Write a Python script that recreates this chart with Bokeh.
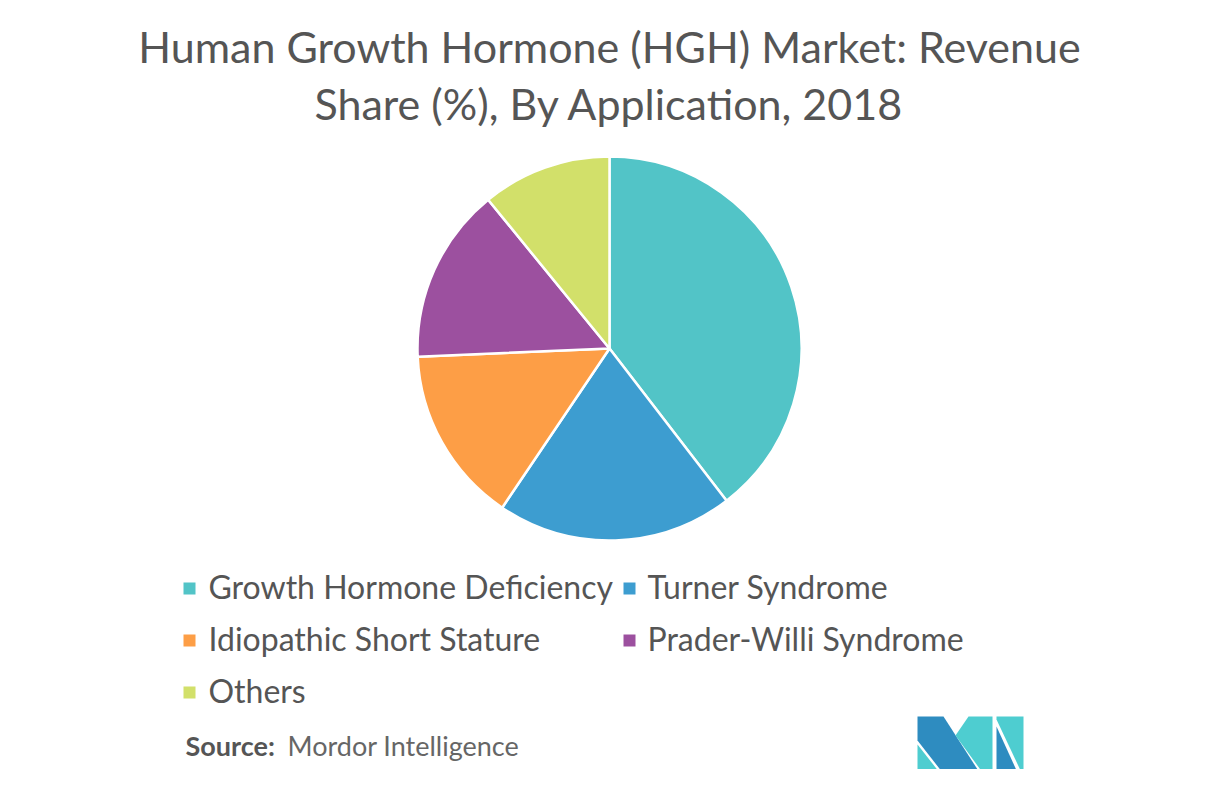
import numpy as np
from bokeh.plotting import figure
from bokeh.models import Range1d, ColumnDataSource
from bokeh.core.properties import value
from bokeh.embed import file_html
from bokeh.resources import INLINE

# ---- data ----
categories = ["Growth Hormone Deficiency", "Turner Syndrome", "Idiopathic Short Stature",
              "Prader-Willi Syndrome", "Others"]
shares = [39.6, 19.9, 14.9, 14.8, 10.9]
colors = ["#52C4C7", "#3D9DD0", "#FD9E46", "#9C509F", "#D2E06A"]
title_lines = ["Human Growth Hormone (HGH) Market: Revenue", "Share (%), By Application, 2018"]

W, H = 1202, 769
PAGE_H = 785


def Y(img_y):
    return PAGE_H - img_y


p = figure(width=W, height=H, output_backend="svg", toolbar_location=None,
           x_range=Range1d(0, W), y_range=Range1d(PAGE_H - H, PAGE_H),
           min_border=0, min_border_left=0, min_border_right=0,
           min_border_top=0, min_border_bottom=0)
p.axis.visible = False
p.grid.visible = False
p.outline_line_color = None
p.background_fill_color = "white"
p.border_fill_color = "white"

# ---- pie ----
cx, cy, r = 609, 348, 192
frac = np.array(shares) / sum(shares)
cum = np.concatenate([[0], np.cumsum(frac)])
start = np.pi / 2 - 2 * np.pi * cum[:-1]
end = np.pi / 2 - 2 * np.pi * cum[1:]
src = ColumnDataSource(dict(start=start, end=end, color=colors))
p.wedge(x=cx, y=Y(cy), radius=r, start_angle="start", end_angle="end",
        direction="clock", fill_color="color", line_color="white", line_width=2.5,
        source=src)

# ---- title ----
TEXT_COLOR = "#555555"
p.text(x=[609, 609], y=[Y(46), Y(103)], text=title_lines, text_align="center",
       text_baseline="alphabetic", text_font=value("Lato"), text_font_size="43px",
       text_color=TEXT_COLOR)

# ---- legend ----
sq_x = [189, 629, 189, 629, 189]
tx_x = [208, 647, 208, 647, 208]
row_base = [599, 599, 651, 651, 703]
p.rect(x=sq_x, y=[Y(b - 11) for b in row_base], width=12, height=12,
       fill_color=colors, line_color=None)
p.text(x=tx_x, y=[Y(b - 13) for b in row_base], text=categories, text_align="left",
       text_baseline="alphabetic", text_font=value("Lato"), text_font_size="32px",
       text_color=TEXT_COLOR)

# ---- source ----
p.text(x=[185], y=[Y(757 - 12)], text=["Source:"], text_align="left", text_baseline="alphabetic",
       text_font=value("Lato"), text_font_size="27px", text_font_style="bold",
       text_color="#555555")
p.text(x=[287], y=[Y(757 - 12)], text=["Mordor Intelligence"], text_align="left",
       text_baseline="alphabetic", text_font=value("Lato"), text_font_size="27px",
       text_color="#666666")

# ---- logo (decoration) ----
logo_dark = "#2E8CC0"
logo_teal = "#4ECDD0"
logo_polys = [
    ([917, 943, 979, 942, 917], [716, 716, 772, 772, 740], logo_dark),
    ([917, 917, 939], [744, 772, 772], logo_teal),
    ([968, 992, 992, 982, 955], [716, 716, 772, 772, 735], logo_teal),
    ([996, 1023, 1023, 1021, 996], [716, 716, 772, 772, 719], logo_teal),
    ([996, 996, 1017], [726, 772, 772], logo_dark),
]
p.patches(xs=[lp[0] for lp in logo_polys],
          ys=[[Y(v) for v in lp[1]] for lp in logo_polys],
          fill_color=[lp[2] for lp in logo_polys], line_color=None)

open("out.html", "w").write(file_html(p, INLINE))
